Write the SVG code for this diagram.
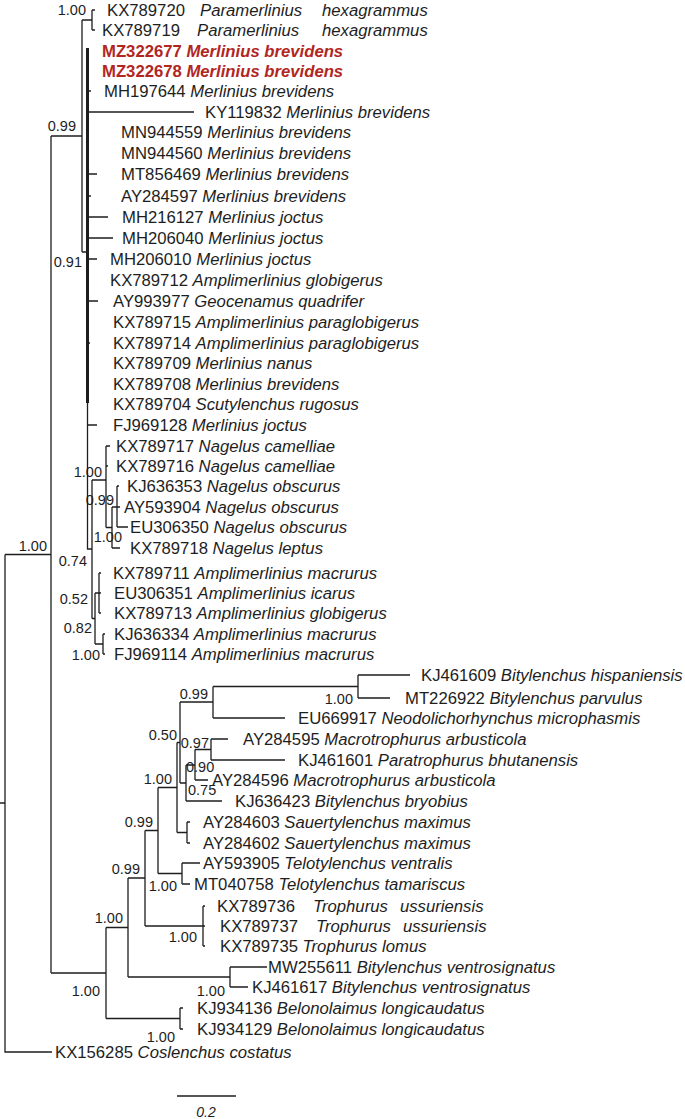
<svg xmlns="http://www.w3.org/2000/svg" width="685" height="1119" viewBox="0 0 685 1119">
<style>
.t{font-family:"Liberation Sans",Arial,sans-serif;font-size:16.7px;fill:#1e1e1e}
.i{font-style:italic}
.r{fill:#b1271f;font-weight:bold}
.s{font-family:"Liberation Sans",Arial,sans-serif;font-size:14.5px;fill:#1e1e1e}
.e{text-anchor:end}
.br{fill:none;stroke:#1e1e1e;stroke-width:1.3}
</style>
<rect width="685" height="1119" fill="#ffffff"/>
<g id="connectors">
<path class="br" d="M0,803H5M5,554.5V1052H52M5,554.5H51"/>
<path class="br" d="M51,136V973M51,136H82M51,973H106"/>
<path class="br" d="M82,20V252M82,20H92M82,252H87"/>
<path class="br" d="M92,10V30M92,10H95M92,30H95"/>
<rect x="86" y="48" width="3" height="355" fill="#1e1e1e"/>
<path class="br" d="M87.5,51V549M87,91H91M87,112H194M87,174H97M87,196H91M87,217H108M87,238H113M87,259H97M87,301H98M87,322H89M87,343H90M87,363H89M87,425H97M87,549H92"/>
<path class="br" d="M92,480V618.5M92,480H106M92,618.5H95"/>
<path class="br" d="M106,446V527.5M106,446H110M106,466H108M106,527.5H112"/>
<path class="br" d="M112,507V548M112,507H117M112,548H120"/>
<path class="br" d="M117,486V527M117,486H119M117,507H120M117,527H128"/>
<path class="br" d="M95,593V644M95,593H99M95,644H103"/>
<path class="br" d="M99,573V613M99,573H101M99,593H101M99,613H101"/>
<path class="br" d="M103,634V654M103,634H105M103,654H105"/>
<path class="br" d="M106,927.5V1018.5M106,927.5H128M106,1018.5H180"/>
<path class="br" d="M180,1008V1029M180,1008H183M180,1029H183"/>
<path class="br" d="M128,878V977M128,878H145M128,977H230"/>
<path class="br" d="M230,967V987M230,967H267M230,987H248"/>
<path class="br" d="M145,830.5V926M145,830.5H158M145,926H205"/>
<path class="br" d="M203,906V946M203,906H205M203,946H205"/>
<path class="br" d="M158,787.5V873.5M158,787.5H177M158,873.5H182"/>
<path class="br" d="M182,863V884M182,863H200M182,884H190"/>
<path class="br" d="M177,742.5V832.5M177,742.5H180M177,832.5H187"/>
<path class="br" d="M187,822V843M187,822H190M187,843H190"/>
<path class="br" d="M180,702V783M180,702H213M180,783H186"/>
<path class="br" d="M213,686.5V718M213,686.5H358M213,718H285"/>
<path class="br" d="M358,675V698M358,675H410M358,698H390"/>
<path class="br" d="M186,765V801M186,765H195M186,801H222"/>
<path class="br" d="M195,749.5V780M195,749.5H211M195,780H208"/>
<path class="br" d="M211,739V760M211,739H228M211,760H285"/>
</g>
<g id="support">
<text class="s e" x="86" y="15">1.00</text>
<text class="s e" x="76" y="131">0.99</text>
<text class="s e" x="82" y="267">0.91</text>
<text class="s e" x="102" y="477">1.00</text>
<text class="s e" x="114" y="505">0.99</text>
<text class="s e" x="122" y="542">1.00</text>
<text class="s e" x="47" y="551">1.00</text>
<text class="s e" x="87" y="566">0.74</text>
<text class="s e" x="88" y="604">0.52</text>
<text class="s e" x="92" y="633">0.82</text>
<text class="s e" x="100" y="660">1.00</text>
<text class="s e" x="208" y="699">0.99</text>
<text class="s e" x="353" y="704">1.00</text>
<text class="s e" x="177" y="740">0.50</text>
<text class="s e" x="209" y="748">0.97</text>
<text class="s" x="186" y="772">0.90</text>
<text class="s" x="188" y="795">0.75</text>
<text class="s e" x="172" y="784">1.00</text>
<text class="s e" x="153" y="827">0.99</text>
<text class="s e" x="140" y="874">0.99</text>
<text class="s e" x="177" y="891">1.00</text>
<text class="s e" x="123" y="923">1.00</text>
<text class="s e" x="197" y="942">1.00</text>
<text class="s e" x="100" y="996">1.00</text>
<text class="s e" x="225" y="996">1.00</text>
<text class="s e" x="175" y="1042">1.00</text>
</g>
<g id="tip-KX789720"><text class="t" x="107" y="16">KX789720<tspan class="i" x="200">Paramerlinius</tspan><tspan class="i" x="322">hexagrammus</tspan></text></g>
<g id="tip-KX789719"><text class="t" x="102" y="36">KX789719<tspan class="i" x="197">Paramerlinius</tspan><tspan class="i" x="322">hexagrammus</tspan></text></g>
<g id="tip-MZ322677"><text class="t r" x="102" y="57">MZ322677 <tspan class="i">Merlinius brevidens</tspan></text></g>
<g id="tip-MZ322678"><text class="t r" x="102" y="77">MZ322678 <tspan class="i">Merlinius brevidens</tspan></text></g>
<g id="tip-MH197644"><text class="t" x="104" y="97">MH197644 <tspan class="i">Merlinius brevidens</tspan></text></g>
<g id="tip-KY119832"><text class="t" x="205" y="118">KY119832 <tspan class="i">Merlinius brevidens</tspan></text></g>
<g id="tip-MN944559"><text class="t" x="121" y="138">MN944559 <tspan class="i">Merlinius brevidens</tspan></text></g>
<g id="tip-MN944560"><text class="t" x="121" y="159">MN944560 <tspan class="i">Merlinius brevidens</tspan></text></g>
<g id="tip-MT856469"><text class="t" x="121" y="180">MT856469 <tspan class="i">Merlinius brevidens</tspan></text></g>
<g id="tip-AY284597"><text class="t" x="121" y="202">AY284597 <tspan class="i">Merlinius brevidens</tspan></text></g>
<g id="tip-MH216127"><text class="t" x="122" y="223">MH216127 <tspan class="i">Merlinius joctus</tspan></text></g>
<g id="tip-MH206040"><text class="t" x="122" y="244">MH206040 <tspan class="i">Merlinius joctus</tspan></text></g>
<g id="tip-MH206010"><text class="t" x="110" y="265">MH206010 <tspan class="i">Merlinius joctus</tspan></text></g>
<g id="tip-KX789712"><text class="t" x="110" y="286">KX789712 <tspan class="i">Amplimerlinius globigerus</tspan></text></g>
<g id="tip-AY993977"><text class="t" x="113" y="307">AY993977 <tspan class="i">Geocenamus quadrifer</tspan></text></g>
<g id="tip-KX789715"><text class="t" x="113" y="328">KX789715 <tspan class="i">Amplimerlinius paraglobigerus</tspan></text></g>
<g id="tip-KX789714"><text class="t" x="113" y="349">KX789714 <tspan class="i">Amplimerlinius paraglobigerus</tspan></text></g>
<g id="tip-KX789709"><text class="t" x="113" y="369">KX789709 <tspan class="i">Merlinius nanus</tspan></text></g>
<g id="tip-KX789708"><text class="t" x="113" y="390">KX789708 <tspan class="i">Merlinius brevidens</tspan></text></g>
<g id="tip-KX789704"><text class="t" x="113" y="410">KX789704 <tspan class="i">Scutylenchus rugosus</tspan></text></g>
<g id="tip-FJ969128"><text class="t" x="113" y="431">FJ969128 <tspan class="i">Merlinius joctus</tspan></text></g>
<g id="tip-KX789717"><text class="t" x="116" y="452">KX789717 <tspan class="i">Nagelus camelliae</tspan></text></g>
<g id="tip-KX789716"><text class="t" x="116" y="472">KX789716 <tspan class="i">Nagelus camelliae</tspan></text></g>
<g id="tip-KJ636353"><text class="t" x="127" y="492">KJ636353 <tspan class="i">Nagelus obscurus</tspan></text></g>
<g id="tip-AY593904"><text class="t" x="124" y="513">AY593904 <tspan class="i">Nagelus obscurus</tspan></text></g>
<g id="tip-EU306350"><text class="t" x="130" y="533">EU306350 <tspan class="i">Nagelus obscurus</tspan></text></g>
<g id="tip-KX789718"><text class="t" x="130" y="554">KX789718 <tspan class="i">Nagelus leptus</tspan></text></g>
<g id="tip-KX789711"><text class="t" x="113" y="579">KX789711 <tspan class="i">Amplimerlinius macrurus</tspan></text></g>
<g id="tip-EU306351"><text class="t" x="114" y="599">EU306351 <tspan class="i">Amplimerlinius icarus</tspan></text></g>
<g id="tip-KX789713"><text class="t" x="114" y="619">KX789713 <tspan class="i">Amplimerlinius globigerus</tspan></text></g>
<g id="tip-KJ636334"><text class="t" x="114" y="640">KJ636334 <tspan class="i">Amplimerlinius macrurus</tspan></text></g>
<g id="tip-FJ969114"><text class="t" x="114" y="660">FJ969114 <tspan class="i">Amplimerlinius macrurus</tspan></text></g>
<g id="tip-KJ461609"><text class="t" x="421" y="681">KJ461609 <tspan class="i">Bitylenchus hispaniensis</tspan></text></g>
<g id="tip-MT226922"><text class="t" x="405" y="704">MT226922 <tspan class="i">Bitylenchus parvulus</tspan></text></g>
<g id="tip-EU669917"><text class="t" x="298" y="724">EU669917 <tspan class="i">Neodolichorhynchus microphasmis</tspan></text></g>
<g id="tip-AY284595"><text class="t" x="243" y="745">AY284595 <tspan class="i">Macrotrophurus arbusticola</tspan></text></g>
<g id="tip-KJ461601"><text class="t" x="298" y="766">KJ461601 <tspan class="i">Paratrophurus bhutanensis</tspan></text></g>
<g id="tip-AY284596"><text class="t" x="212" y="786">AY284596 <tspan class="i">Macrotrophurus arbusticola</tspan></text></g>
<g id="tip-KJ636423"><text class="t" x="235" y="807">KJ636423 <tspan class="i">Bitylenchus bryobius</tspan></text></g>
<g id="tip-AY284603"><text class="t" x="203" y="828">AY284603 <tspan class="i">Sauertylenchus maximus</tspan></text></g>
<g id="tip-AY284602"><text class="t" x="203" y="849">AY284602 <tspan class="i">Sauertylenchus maximus</tspan></text></g>
<g id="tip-AY593905"><text class="t" x="203" y="869">AY593905 <tspan class="i">Telotylenchus ventralis</tspan></text></g>
<g id="tip-MT040758"><text class="t" x="194" y="890">MT040758 <tspan class="i">Telotylenchus tamariscus</tspan></text></g>
<g id="tip-KX789736"><text class="t" x="217" y="912">KX789736<tspan class="i" x="313">Trophurus</tspan><tspan class="i" x="400">ussuriensis</tspan></text></g>
<g id="tip-KX789737"><text class="t" x="220" y="932">KX789737<tspan class="i" x="316">Trophurus</tspan><tspan class="i" x="403">ussuriensis</tspan></text></g>
<g id="tip-KX789735"><text class="t" x="220" y="952">KX789735 <tspan class="i">Trophurus lomus</tspan></text></g>
<g id="tip-MW255611"><text class="t" x="268" y="973">MW255611 <tspan class="i">Bitylenchus ventrosignatus</tspan></text></g>
<g id="tip-KJ461617"><text class="t" x="252" y="993">KJ461617 <tspan class="i">Bitylenchus ventrosignatus</tspan></text></g>
<g id="tip-KJ934136"><text class="t" x="197" y="1014">KJ934136 <tspan class="i">Belonolaimus longicaudatus</tspan></text></g>
<g id="tip-KJ934129"><text class="t" x="197" y="1035">KJ934129 <tspan class="i">Belonolaimus longicaudatus</tspan></text></g>
<g id="tip-KX156285"><text class="t" x="55" y="1058">KX156285 <tspan class="i">Coslenchus costatus</tspan></text></g>
<g id="scale-bar">
<path class="br" d="M177,1096H236"/>
<text class="s i" x="206" y="1117" text-anchor="middle" style="font-size:14px">0.2</text>
</g>
</svg>
